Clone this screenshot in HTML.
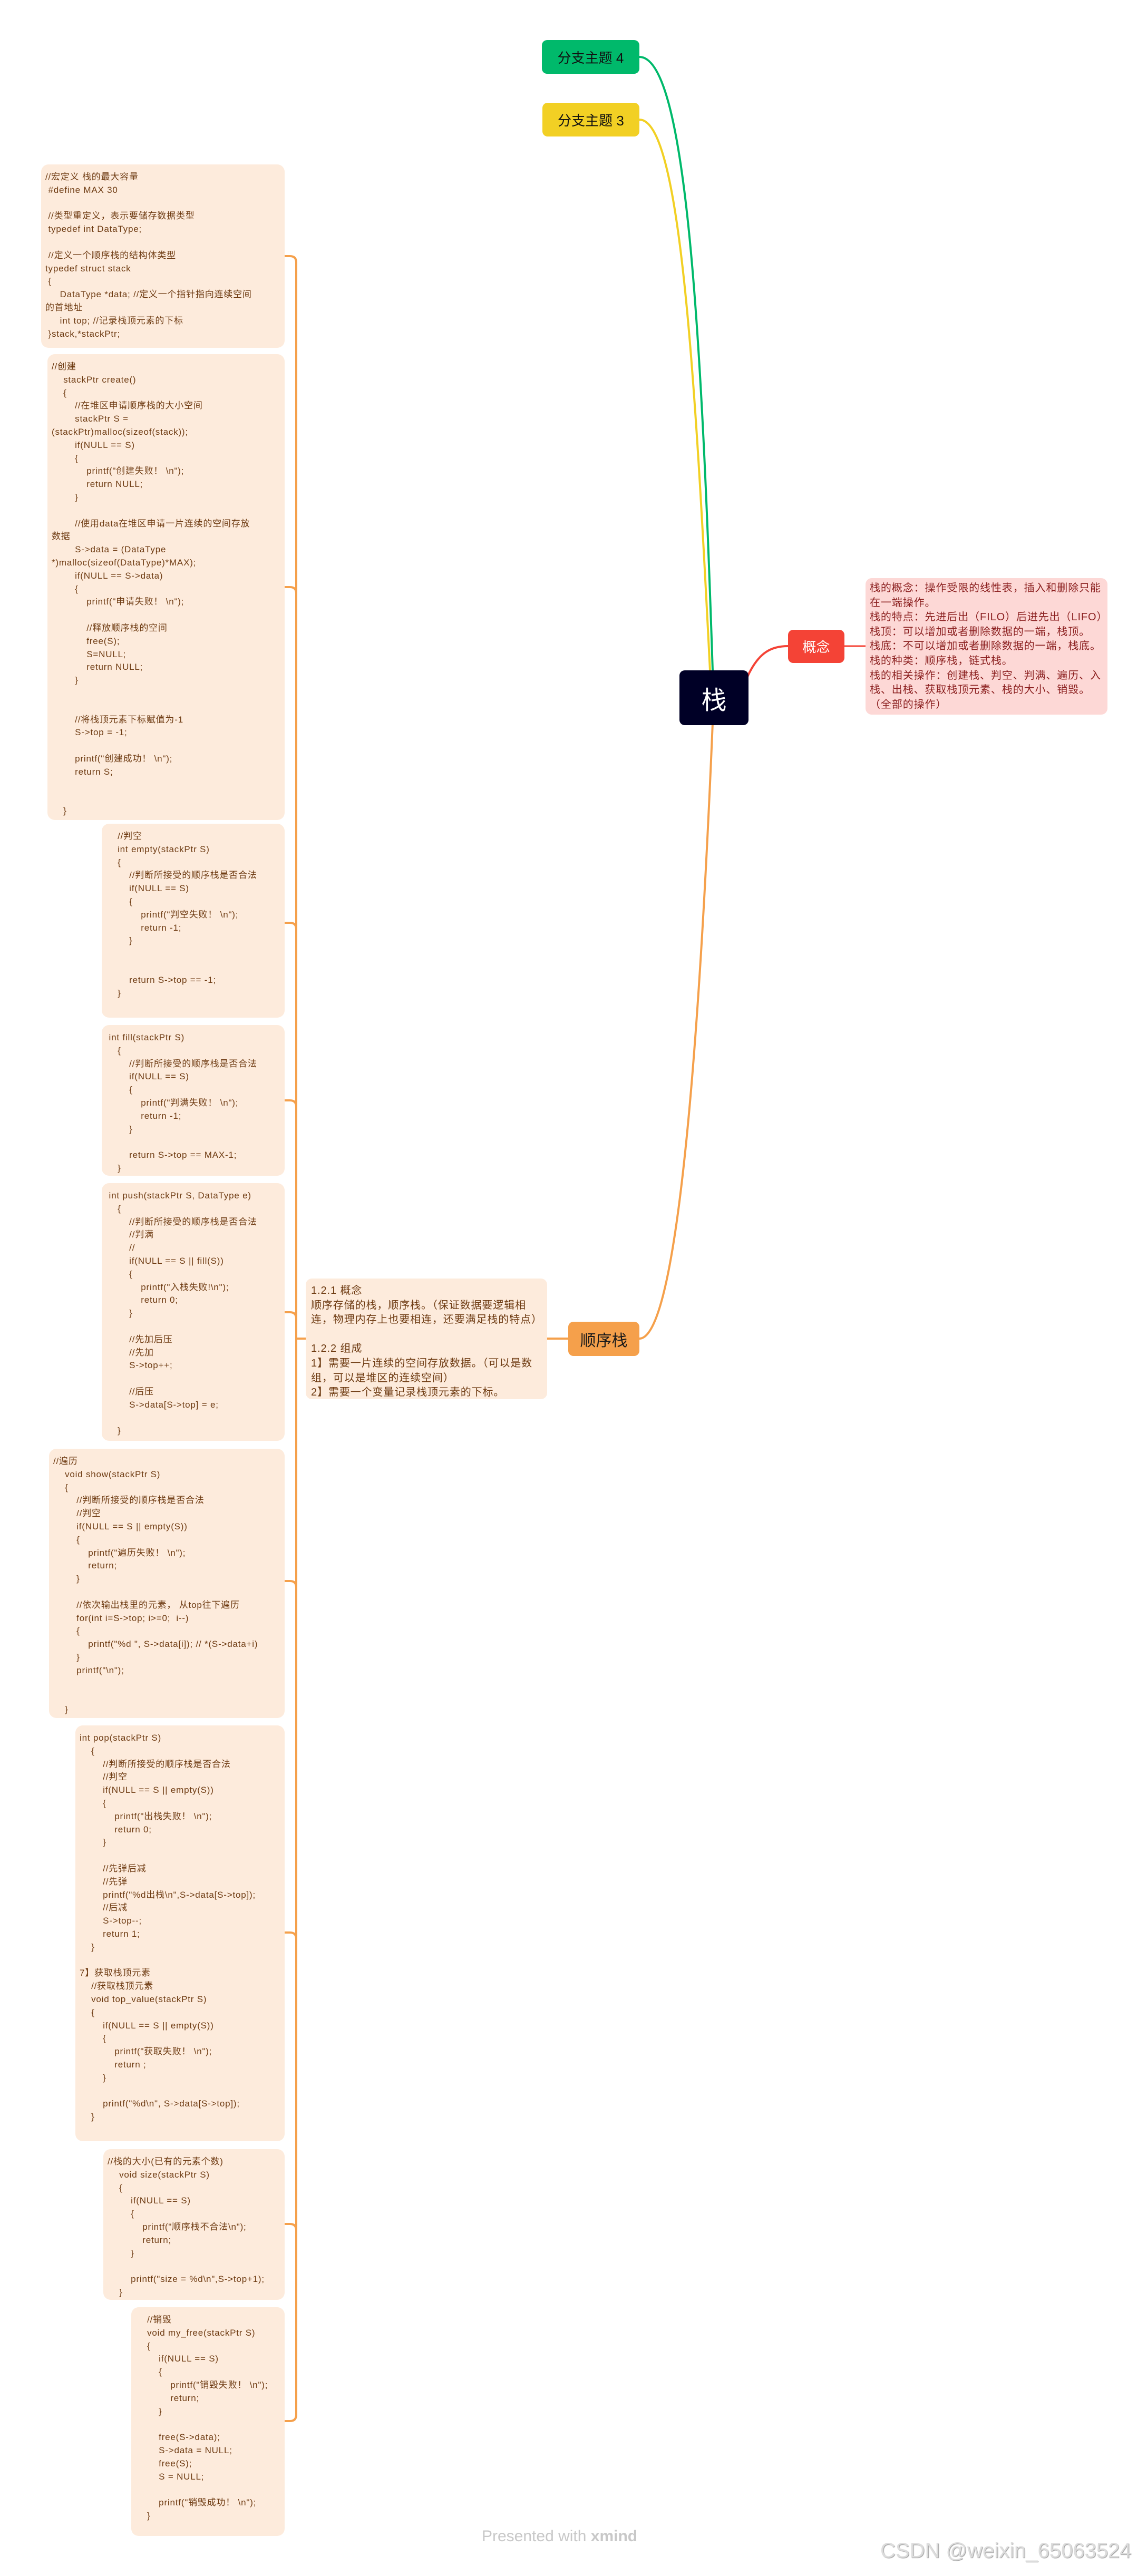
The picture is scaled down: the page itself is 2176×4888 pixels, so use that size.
<!DOCTYPE html>
<html><head><meta charset="utf-8">
<style>
html,body{margin:0;padding:0;background:#fff;}
body{width:2176px;height:4888px;position:relative;overflow:hidden;font-family:"Liberation Sans","Noto Sans CJK SC",sans-serif;}
.n{position:absolute;display:flex;align-items:center;justify-content:center;border-radius:10px;}
.code{position:absolute;background:#fdebdc;border-radius:14px;box-sizing:border-box;padding:12px 8px;color:#6e3b12;font-size:17px;line-height:24.8px;letter-spacing:0.8px;white-space:pre;overflow:hidden;}
.note{position:absolute;border-radius:12px;box-sizing:border-box;white-space:pre;overflow:hidden;}
svg{position:absolute;left:0;top:0;}
</style></head><body>
<svg width="2176" height="4888">
<g fill="none" stroke-linecap="round">
<path d="M1213,108 C1300,108 1330,600 1352,1272" stroke="#00b96b" stroke-width="4"/>
<path d="M1213,227 C1290,227 1318,700 1347,1272" stroke="#f2d024" stroke-width="4"/>
<path d="M1418,1284 C1440,1236 1465,1226 1495,1226" stroke="#f44336" stroke-width="4"/>
<path d="M1602,1226 H1642" stroke="#f44336" stroke-width="3"/>
<path d="M1213,2540 C1290,2540 1330,1900 1352,1372" stroke="#f5a04b" stroke-width="4"/>
<path d="M1038,2540 H1078" stroke="#f5a04b" stroke-width="4"/>
<path d="M562,2540 H580" stroke="#f5a04b" stroke-width="4"/>
<path d="M540,486 H550 Q562,486 562,498 V4582 Q562,4594 550,4594 H540" stroke="#f5a04b" stroke-width="4"/>
<path d="M540,1114 H550 Q562,1114 562,1126" stroke="#f5a04b" stroke-width="4"/>
<path d="M540,1751 H550 Q562,1751 562,1763" stroke="#f5a04b" stroke-width="4"/>
<path d="M540,2088 H550 Q562,2088 562,2100" stroke="#f5a04b" stroke-width="4"/>
<path d="M540,2490 H550 Q562,2490 562,2502" stroke="#f5a04b" stroke-width="4"/>
<path d="M540,3000 H550 Q562,3000 562,3012" stroke="#f5a04b" stroke-width="4"/>
<path d="M540,3667 H550 Q562,3667 562,3679" stroke="#f5a04b" stroke-width="4"/>
<path d="M540,4220 H550 Q562,4220 562,4232" stroke="#f5a04b" stroke-width="4"/>
</g>
</svg>

<div class="n" style="left:1028px;top:76px;width:185px;height:64px;background:#00b96b;color:#111;font-size:26px;">分支主题 4</div>
<div class="n" style="left:1029px;top:195px;width:184px;height:64px;background:#f2d024;color:#111;font-size:26px;">分支主题 3</div>
<div class="n" style="left:1289px;top:1272px;width:131px;height:104px;background:#000026;color:#fff;font-size:48px;">栈</div>
<div class="n" style="left:1495px;top:1195px;width:107px;height:63px;background:#f44336;color:#fff;font-size:26px;">概念</div>
<div class="n" style="left:1078px;top:2508px;width:135px;height:65px;background:#f5a04b;color:#1a1a1a;font-size:30px;">顺序栈</div>

<div class="note" style="left:1642px;top:1097px;width:459px;height:259px;background:#fdd8d6;color:#8b1f1f;font-size:20px;line-height:27.6px;letter-spacing:0.9px;padding:6px 8px;">栈的概念：操作受限的线性表，插入和删除只能
在一端操作。
栈的特点：先进后出（FILO）后进先出（LIFO）
栈顶：可以增加或者删除数据的一端，栈顶。
栈底：不可以增加或者删除数据的一端，栈底。
栈的种类：顺序栈，链式栈。
栈的相关操作：创建栈、判空、判满、遍历、入
栈、出栈、获取栈顶元素、栈的大小、销毁。
（全部的操作）</div>

<div class="note" style="left:580px;top:2426px;width:458px;height:229px;background:#fdebdc;color:#6e3b12;font-size:20px;line-height:27.6px;letter-spacing:0.9px;padding:10px 10px;">1.2.1 概念
顺序存储的栈，顺序栈。（保证数据要逻辑相
连，物理内存上也要相连，还要满足栈的特点）

1.2.2 组成
1】需要一片连续的空间存放数据。（可以是数
组，可以是堆区的连续空间）
2】需要一个变量记录栈顶元素的下标。</div>

<div class="code" style="left:78px;top:312px;width:462px;height:348px;">//宏定义 栈的最大容量
 #define MAX 30

 //类型重定义，表示要储存数据类型
 typedef int DataType;

 //定义一个顺序栈的结构体类型
typedef struct stack
 {
     DataType *data; //定义一个指针指向连续空间
的首地址
     int top; //记录栈顶元素的下标
 }stack,*stackPtr;</div>

<div class="code" style="left:90px;top:672px;width:450px;height:884px;">//创建
    stackPtr create()
    {
        //在堆区申请顺序栈的大小空间
        stackPtr S = 
(stackPtr)malloc(sizeof(stack));
        if(NULL == S)
        {
            printf("创建失败！ \n");
            return NULL;
        }

        //使用data在堆区申请一片连续的空间存放
数据
        S->data = (DataType 
*)malloc(sizeof(DataType)*MAX);
        if(NULL == S->data)
        {
            printf("申请失败！ \n");

            //释放顺序栈的空间
            free(S);
            S=NULL;
            return NULL;
        }


        //将栈顶元素下标赋值为-1
        S->top = -1;

        printf("创建成功！ \n");
        return S;


    }</div>

<div class="code" style="left:193px;top:1563px;width:347px;height:368px;">    //判空
    int empty(stackPtr S)
    {
        //判断所接受的顺序栈是否合法
        if(NULL == S)
        {
            printf("判空失败！ \n");
            return -1;
        }


        return S->top == -1;
    }</div>

<div class="code" style="left:193px;top:1945px;width:347px;height:286px;"> int fill(stackPtr S)
    {
        //判断所接受的顺序栈是否合法
        if(NULL == S)
        {
            printf("判满失败！ \n");
            return -1;
        }

        return S->top == MAX-1;
    }</div>

<div class="code" style="left:193px;top:2245px;width:347px;height:489px;"> int push(stackPtr S, DataType e)
    {
        //判断所接受的顺序栈是否合法
        //判满
        //
        if(NULL == S || fill(S))
        {
            printf("入栈失败!\n");
            return 0;
        }

        //先加后压
        //先加
        S->top++;

        //后压
        S->data[S->top] = e;

    }</div>

<div class="code" style="left:93px;top:2749px;width:447px;height:511px;">//遍历
    void show(stackPtr S)
    {
        //判断所接受的顺序栈是否合法
        //判空
        if(NULL == S || empty(S))
        {
            printf("遍历失败！ \n");
            return;
        }

        //依次输出栈里的元素， 从top往下遍历
        for(int i=S->top; i>=0;  i--)
        {
            printf("%d ", S->data[i]); // *(S->data+i)
        }
        printf("\n");


    }</div>

<div class="code" style="left:143px;top:3274px;width:397px;height:789px;">int pop(stackPtr S)
    {
        //判断所接受的顺序栈是否合法
        //判空
        if(NULL == S || empty(S))
        {
            printf("出栈失败！ \n");
            return 0;
        }

        //先弹后减
        //先弹
        printf("%d出栈\n",S->data[S->top]);
        //后减
        S->top--;
        return 1;
    }

7】获取栈顶元素
    //获取栈顶元素
    void top_value(stackPtr S)
    {
        if(NULL == S || empty(S))
        {
            printf("获取失败！ \n");
            return ;
        }

        printf("%d\n", S->data[S->top]);
    }</div>

<div class="code" style="left:196px;top:4078px;width:344px;height:286px;">//栈的大小(已有的元素个数)
    void size(stackPtr S)
    {
        if(NULL == S)
        {
            printf("顺序栈不合法\n");
            return;
        }

        printf("size = %d\n",S->top+1);
    }</div>

<div class="code" style="left:249px;top:4378px;width:291px;height:434px;">    //销毁
    void my_free(stackPtr S)
    {
        if(NULL == S)
        {
            printf("销毁失败！ \n");
            return;
        }

        free(S->data);
        S->data = NULL;
        free(S);
        S = NULL;

        printf("销毁成功！ \n");
    }</div>

<div style="position:absolute;left:914px;top:4796px;font-size:30px;color:#c8c8c8;white-space:nowrap;">Presented with <b>xmind</b></div>
<div style="position:absolute;left:1670px;top:4818px;font-size:40px;color:#dcdcdc;white-space:nowrap;text-shadow:1px 1px 1px #999;">CSDN @weixin_65063524</div>
</body></html>
